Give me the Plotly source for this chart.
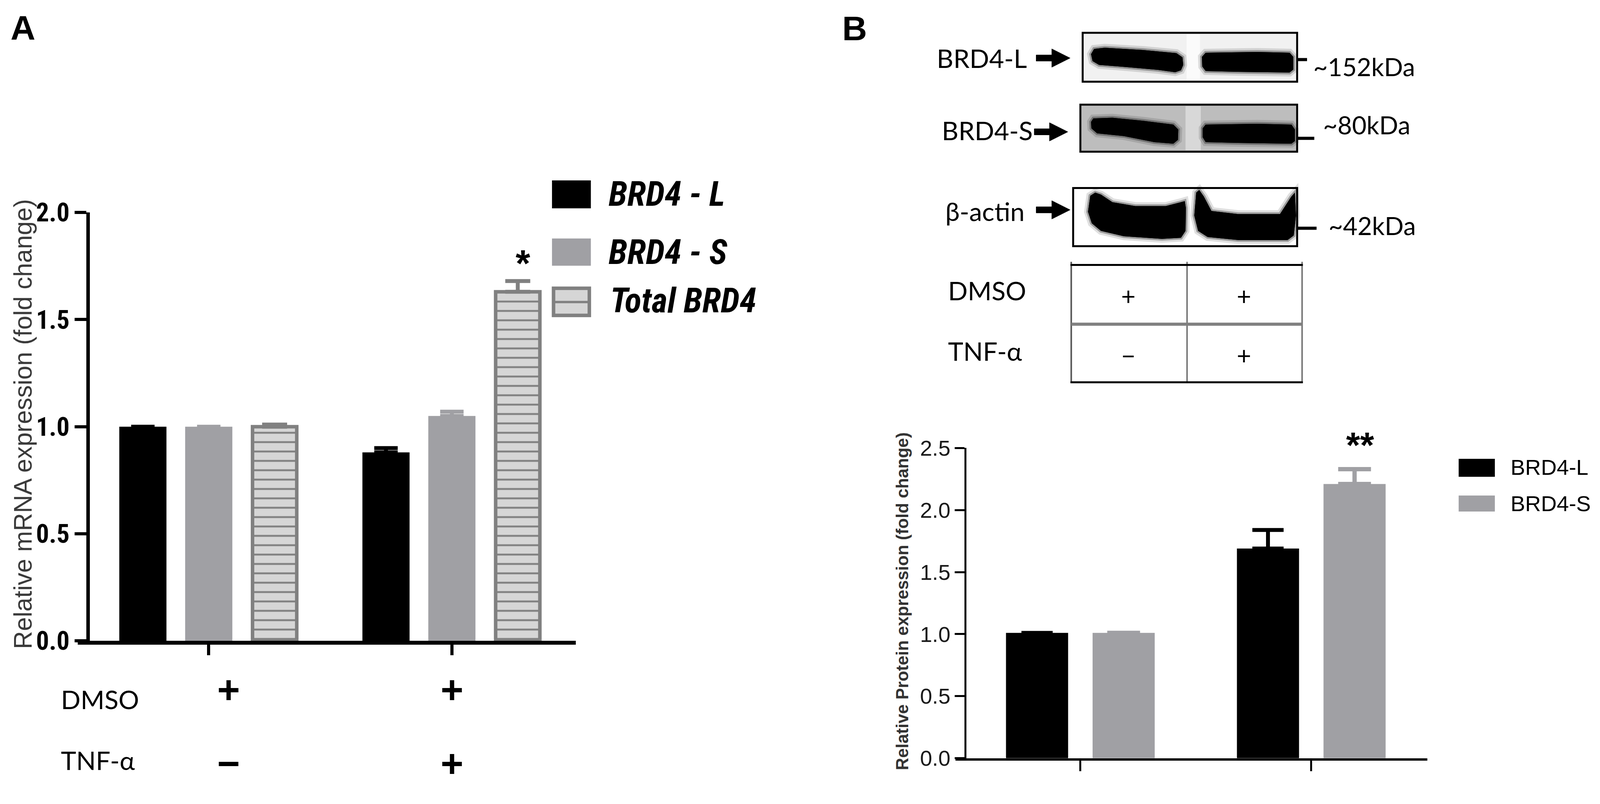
import plotly.graph_objects as go

# reference canvas size; all positions below are given on this canvas and
# converted to paper fractions, so the figure can follow the real window size
W, H = 4200, 2059
TOP = 35  # the page seems to start a little below the top of the photographed window


def px(x):
    return x / W


def py(y):
    return 1 - (y - TOP) / (H - TOP)


# ---- data ----
mrna_brd4_l = [1.00, 0.88]
mrna_brd4_l_err = [0.0, 0.02]
mrna_brd4_s = [1.00, 1.05]
mrna_brd4_s_err = [0.0, 0.02]
mrna_total = [1.00, 1.63]
mrna_total_err = [0.01, 0.05]

protein_brd4_l = [1.01, 1.69]
protein_brd4_l_err = [0.0, 0.15]
protein_brd4_s = [1.01, 2.21]
protein_brd4_s_err = [0.0, 0.12]

mrna_ticks = [0.0, 0.5, 1.0, 1.5, 2.0]
protein_ticks = [0.0, 0.5, 1.0, 1.5, 2.0, 2.5]
dmso_row = ["+", "+"]
tnf_row = ["\u2212", "+"]
group_pos = [0, 1]

BLACK = "#000000"
GREY = "#a0a0a4"
DGREY = "#808080"
LGREY = "#d6d6d6"
NARROW = "Roboto Condensed, DejaVu Sans Condensed, Liberation Sans, Arial"
SANS = "Liberation Sans, Arial"
CAL = "Lato, Open Sans, sans-serif"

fig = go.Figure()


def add_bar(y, err, shift, width, color, xa, ya, err_color, err_w, err_t,
            line_color=None, line_w=0, pattern=None):
    fig.add_trace(go.Bar(
        x=group_pos, y=y, width=width, offset=shift - width / 2,
        marker=dict(color=color, line=dict(color=line_color or color, width=line_w),
                    pattern=pattern),
        error_y=dict(type="data", array=err, arrayminus=[0] * len(err), symmetric=False,
                     color=err_color, thickness=err_t, width=err_w),
        xaxis=xa, yaxis=ya, showlegend=False, hoverinfo="skip",
    ))


# --- panel A: mRNA ---
wA, stepA = 0.194, 0.271
add_bar(mrna_brd4_l, mrna_brd4_l_err, -stepA, wA, BLACK, "x", "y", BLACK, 30, 10)
add_bar(mrna_brd4_s, mrna_brd4_s_err, 0, wA, GREY, "x", "y", GREY, 30, 10)
add_bar(mrna_total, mrna_total_err, stepA, wA - 0.012, LGREY, "x", "y", DGREY, 32, 10,
        line_color=DGREY, line_w=9,
        pattern=dict(shape="-", fgcolor=DGREY, bgcolor=LGREY, size=24, solidity=0.2,
                     fillmode="replace"))

# --- panel B: protein ---
wB, stepB = 0.269, 0.1875
add_bar(protein_brd4_l, protein_brd4_l_err, -stepB, wB, BLACK, "x2", "y2", BLACK, 40, 10)
add_bar(protein_brd4_s, protein_brd4_s_err, stepB, wB, GREY, "x2", "y2", GREY, 42, 11)

axis_common = dict(showgrid=False, zeroline=False, fixedrange=True, linecolor="black",
                   tickcolor="black", showline=True, ticks="outside")

fig.update_layout(
    autosize=True, margin=dict(l=0, r=0, t=0, b=0),
    paper_bgcolor="white", plot_bgcolor="white", barmode="overlay", showlegend=False,
    xaxis=dict(domain=[px(204), px(1511)], range=[-0.539, 1.509], anchor="y",
               linewidth=10, tickvals=group_pos, ticklen=27, tickwidth=8,
               showticklabels=False, **axis_common),
    yaxis=dict(domain=[py(1672), py(552)], range=[0, 2], anchor="free", position=px(231),
               linewidth=9, tickvals=mrna_ticks, ticktext=[f"{v:.1f}" for v in mrna_ticks],
               ticklen=30, tickwidth=8,
               tickfont=dict(family=NARROW, size=66, color="black", weight="bold"),
               **axis_common),
    xaxis2=dict(domain=[px(2508), px(3747)], range=[-0.541, 1.503], anchor="y2",
                linewidth=6, tickvals=group_pos, ticklen=27, tickwidth=5,
                showticklabels=False, **axis_common),
    yaxis2=dict(domain=[py(1979), py(1168)], range=[0, 2.5], anchor="free",
                position=px(2534), linewidth=5, tickvals=protein_ticks,
                ticktext=[f"{v:.1f}" for v in protein_ticks], ticklen=25, tickwidth=5,
                tickfont=dict(family=SANS, size=56, color="#1a1a1a"),
                **axis_common),
)

shapes = []
annots = []


def text(s, x, y, size, family=SANS, color="black", xanchor="left", yanchor="middle",
         weight="normal", style="normal", angle=0):
    annots.append(dict(text=s, x=px(x), y=py(y), xref="paper", yref="paper",
                       xanchor=xanchor, yanchor=yanchor, showarrow=False, textangle=angle,
                       borderpad=6,
                       font=dict(family=family, size=size, color=color, weight=weight,
                                 style=style)))


def rect(x0, y0, x1, y1, fill, line_color=None, line_w=0):
    shapes.append(dict(type="rect", xref="paper", yref="paper", x0=px(x0), x1=px(x1),
                       y0=py(y0), y1=py(y1), fillcolor=fill,
                       line=dict(color=line_color or fill, width=line_w)))


def line(x0, y0, x1, y1, color, w):
    shapes.append(dict(type="line", xref="paper", yref="paper", x0=px(x0), x1=px(x1),
                       y0=py(y0), y1=py(y1), line=dict(color=color, width=w)))


def poly(points, fill, edge="rgba(0,0,0,0.35)", edge_w=8):
    d = "M" + " L".join(f"{px(a):.5f},{py(b):.5f}" for a, b in points) + " Z"
    shapes.append(dict(type="path", xref="paper", yref="paper", path=d, fillcolor=fill,
                       line=dict(color=edge, width=edge_w)))


def band(points):
    # soft edged blot band: wide faint halo, then the dark core
    poly(points, BLACK, edge="rgba(0,0,0,0.12)", edge_w=20)
    poly(points, BLACK, edge="rgba(0,0,0,0.3)", edge_w=9)


def arrow(x0, x1, y):
    xh = x1 - 48
    poly([(x0, y - 8), (xh, y - 8), (xh, y - 24), (x1, y), (xh, y + 24), (xh, y + 8),
          (x0, y + 8)], BLACK, edge=BLACK, edge_w=1)


# panel letters
text("A", 20, 68, 88, weight="bold")
text("B", 2204, 70, 88, weight="bold")

# panel A axis title, stars, treatment rows
text("Relative mRNA expression (fold change)", 60, 1105, 64, color="#3a3a3a", angle=-90,
     xanchor="center")
text("*", 1373, 684, 96, weight="bold", xanchor="center")
text("DMSO", 153, 1825, 66, family=CAL)
text("TNF-\u03b1", 153, 1984, 66, family=CAL)
for xc, s in zip([600, 1186], dmso_row):
    text(s, xc, 1800, 100, weight="bold", xanchor="center")
for xc, s in zip([600, 1186], tnf_row):
    text(s, xc, 1993, 100, weight="bold", xanchor="center")

# panel A legend
rect(1449, 468, 1551, 541, BLACK)
rect(1449, 620, 1551, 691, GREY)
rect(1453, 750, 1547, 821, LGREY, DGREY, 9)
line(1453, 786, 1547, 786, DGREY, 6)
text("BRD4 - L", 1590, 503, 88, family=NARROW, weight="bold", style="italic")
text("BRD4 - S", 1590, 655, 88, family=NARROW, weight="bold", style="italic")
text("Total BRD4", 1594, 782, 88, family=NARROW, weight="bold", style="italic")

# panel B axis title, stars, legend
text("Relative Protein expression (fold change)", 2368, 1568, 44, color="#333333",
     angle=-90, xanchor="center", weight="bold")
text("**", 3570, 1160, 92, weight="bold", xanchor="center")
rect(3829, 1196, 3924, 1243, BLACK)
rect(3829, 1292, 3924, 1334, GREY)
text("BRD4-L", 3958, 1218, 56)
text("BRD4-S", 3958, 1313, 56)

# western blot panels
rect(2842, 82, 3405, 210, "#f1f1f1", BLACK, 5)
rect(3115, 86, 3150, 206, "#fbfbfb")
rect(2836, 270, 3405, 393, "#bdbdbd", BLACK, 5)
rect(3112, 274, 3152, 389, "#d8d8d8")
rect(2817, 488, 3405, 640, "#ffffff", BLACK, 5)

band([(2872, 124), (2900, 121), (3000, 127), (3088, 135), (3104, 146), (3106, 166),
      (3100, 180), (3085, 185), (3040, 179), (2950, 171), (2885, 166), (2868, 156),
      (2864, 138)])
band([(3165, 134), (3300, 132), (3385, 134), (3395, 145), (3395, 178), (3385, 186),
      (3250, 184), (3165, 182), (3156, 170), (3155, 145)])
band([(2870, 306), (2920, 304), (3000, 312), (3080, 322), (3093, 335), (3092, 362),
      (3080, 372), (3030, 368), (2950, 352), (2880, 345), (2865, 332), (2864, 315)])
band([(3165, 322), (3300, 320), (3390, 322), (3399, 335), (3399, 365), (3390, 372),
      (3250, 370), (3165, 368), (3157, 355), (3157, 332)])
band([(2862, 508), (2875, 500), (2890, 505), (2920, 525), (2980, 535), (3060, 535),
      (3100, 525), (3110, 522), (3113, 540), (3112, 600), (3100, 618), (3050, 621),
      (2950, 614), (2890, 600), (2866, 580), (2856, 550)])
band([(3140, 500), (3148, 493), (3160, 510), (3180, 548), (3250, 556), (3360, 556),
      (3390, 510), (3399, 500), (3402, 560), (3396, 612), (3380, 624), (3250, 624),
      (3170, 616), (3145, 600), (3135, 560)])

text("BRD4-L", 2452, 148, 66, family=CAL)
text("BRD4-S", 2465, 337, 66, family=CAL)
text("\u03b2-actin", 2474, 548, 66, family=CAL)
arrow(2720, 2809, 148)
arrow(2715, 2803, 341)
arrow(2720, 2809, 545)

line(3405, 152, 3431, 152, BLACK, 8)
line(3405, 358, 3450, 358, BLACK, 8)
line(3405, 593, 3456, 593, BLACK, 8)
text("~152kDa", 3440, 170, 64, family=CAL)
text("~80kDa", 3466, 322, 64, family=CAL)
text("~42kDa", 3480, 586, 64, family=CAL)

# treatment table
line(2812, 681, 2812, 998, "#555555", 4)
line(3116, 681, 3116, 998, "#555555", 3)
line(3418, 681, 3418, 998, "#777777", 4)
line(2810, 689, 3420, 689, BLACK, 5)
line(2812, 844, 3418, 844, DGREY, 8)
line(2810, 996, 3420, 996, BLACK, 5)
text("DMSO", 2481, 755, 66, family=CAL)
text("TNF-\u03b1", 2481, 914, 66, family=CAL)
for xc, s in zip([2962, 3265], dmso_row):
    text(s, xc, 770, 64, family=CAL, xanchor="center")
for xc, s in zip([2962, 3265], tnf_row):
    text(s, xc, 925, 64, family=CAL, xanchor="center")

fig.update_layout(shapes=shapes, annotations=annots)

# the figure fills the browser window, whatever width it really gets
fit_js = ("document.body.style.margin = '0'; document.body.style.overflow = 'hidden';"
          "Plotly.Plots.resize(document.getElementById('{plot_id}'));")
fig.write_html("out.html", config={"displayModeBar": False, "responsive": True},
               default_width="100vw", default_height="100vh", post_script=fit_js)
